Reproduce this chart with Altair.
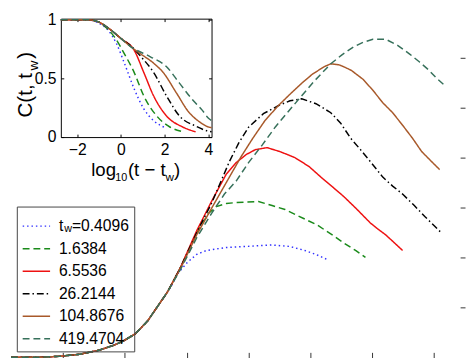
import altair as alt
import pandas as pd

FONT = "Liberation Sans"

# ---- series labels, colours, dashes ----
tw_labels = ["t\u00a0\u00a0=0.4096", "1.6384", "6.5536", "26.2144", "104.8676", "419.4704"]
colors = ["#3030ff", "#1a8a1a", "#ee1111", "#000000", "#a8592a", "#36705a"]
dashes = [[1.5, 3], [7, 4], [1, 0], [7, 3, 1.5, 3], [1, 0], [7, 4]]

# ---- main panel (arbitrary units, tick spacing = 1) ----
common_x = [0.16, 0.63, 0.95, 1.27, 1.58, 1.82, 1.98, 2.17, 2.37, 2.53, 2.69]
common_y = [0.00, 0.00, 0.02, 0.06, 0.14, 0.24, 0.33, 0.47, 0.73, 1.02, 1.31]

main_x = [
    [2.77, 2.85, 3.01, 3.16, 3.32, 3.64, 3.96, 4.38, 4.67, 4.91, 5.09, 5.27],
    [2.90, 3.16, 3.24, 3.35, 3.48, 3.64, 3.80, 4.16, 4.38, 4.59, 4.79, 5.11, 5.38, 5.54, 5.73, 5.89],
    [2.90, 3.16, 3.40, 3.64, 3.80, 3.96, 4.11, 4.30, 4.51, 4.75, 4.98, 5.17, 5.38, 5.54, 5.74, 5.97, 6.09, 6.22, 6.36, 6.49],
    [2.90, 3.16, 3.40, 3.69, 3.84, 4.00, 4.24, 4.48, 4.67, 4.86, 5.09, 5.33, 5.49, 5.65, 5.81, 5.97, 6.17, 6.33, 6.49, 6.68, 6.85, 6.99, 7.12],
    [2.90, 3.16, 3.40, 3.69, 3.88, 4.07, 4.27, 4.48, 4.67, 4.86, 5.03, 5.22, 5.33, 5.46, 5.54, 5.66, 5.85, 6.01, 6.17, 6.33, 6.49, 6.65, 6.80, 6.96, 7.09],
    [2.90, 3.16, 3.40, 3.61, 3.80, 4.00, 4.22, 4.43, 4.64, 4.86, 5.06, 5.33, 5.51, 5.70, 5.85, 6.01, 6.22, 6.41, 6.60, 6.76, 6.91, 7.04, 7.15],
]
main_y = [
    [1.47, 1.67, 1.90, 2.06, 2.14, 2.20, 2.22, 2.25, 2.22, 2.14, 2.06, 1.96],
    [1.80, 2.49, 2.65, 2.88, 3.02, 3.08, 3.10, 3.12, 3.04, 2.96, 2.84, 2.65, 2.43, 2.29, 2.14, 2.00],
    [1.80, 2.53, 3.12, 3.67, 3.90, 4.06, 4.16, 4.20, 4.12, 4.00, 3.82, 3.61, 3.39, 3.22, 2.98, 2.69, 2.57, 2.45, 2.29, 2.14],
    [1.80, 2.49, 3.08, 3.92, 4.29, 4.61, 4.88, 5.04, 5.14, 5.18, 5.08, 4.90, 4.69, 4.39, 4.16, 3.92, 3.61, 3.43, 3.27, 3.04, 2.82, 2.65, 2.49],
    [1.78, 2.45, 2.98, 3.61, 4.02, 4.39, 4.75, 5.04, 5.27, 5.49, 5.67, 5.82, 5.88, 5.86, 5.82, 5.75, 5.57, 5.35, 5.10, 4.90, 4.65, 4.39, 4.12, 3.92, 3.76],
    [1.76, 2.39, 2.88, 3.27, 3.53, 3.90, 4.25, 4.61, 4.92, 5.24, 5.53, 5.88, 6.06, 6.22, 6.31, 6.37, 6.37, 6.25, 6.08, 5.92, 5.76, 5.59, 5.47],
]

# ---- inset: C(t,tw) vs log10(t-tw) ----
inset_x = [
    [-2.75, -1.5, -1.0, -0.58, -0.21, 0.16, 0.61, 1.05, 1.50, 2.09],
    [-2.75, -1.5, -1.0, -0.60, -0.28, 0.16, 0.61, 1.05, 1.64, 2.24, 2.76],
    [-2.75, -1.55, -1.0, -0.58, 0.01, 0.61, 1.05, 1.50, 2.09, 2.83, 3.42],
    [-2.75, -1.5, -1.0, -0.58, 0.01, 0.50, 0.90, 1.50, 2.09, 2.68, 3.42, 4.01, 4.15],
    [-2.75, -1.5, -1.0, -0.58, 0.01, 0.46, 0.90, 1.50, 1.94, 2.53, 3.12, 3.60, 4.01, 4.15],
    [-2.75, -1.5, -1.0, -0.58, 0.01, 0.46, 1.35, 2.09, 2.68, 3.27, 3.72, 4.01, 4.15],
]
inset_c = [
    [1.0, 1.0, 0.97, 0.91, 0.80, 0.63, 0.41, 0.24, 0.14, 0.075],
    [1.0, 1.0, 0.98, 0.92, 0.85, 0.71, 0.55, 0.35, 0.18, 0.086, 0.05],
    [1.0, 1.0, 0.98, 0.93, 0.84, 0.74, 0.55, 0.35, 0.18, 0.086, 0.045],
    [1.0, 1.0, 0.98, 0.93, 0.84, 0.77, 0.69, 0.55, 0.35, 0.18, 0.094, 0.05, 0.045],
    [1.0, 1.0, 0.98, 0.93, 0.84, 0.77, 0.71, 0.63, 0.55, 0.38, 0.21, 0.13, 0.086, 0.08],
    [1.0, 1.0, 0.98, 0.93, 0.84, 0.77, 0.685, 0.60, 0.46, 0.32, 0.23, 0.16, 0.14],
]

main_rows, inset_rows = [], []
for i, lab in enumerate(tw_labels):
    xs = common_x + main_x[i]
    ys = common_y + main_y[i]
    for k, (a, b) in enumerate(zip(xs, ys)):
        main_rows.append({"tw": lab, "x": a, "y": b, "o": k})
    for k, (a, b) in enumerate(zip(inset_x[i], inset_c[i])):
        inset_rows.append({"tw": lab, "lx": a, "c": b, "o": k})
main_df = pd.DataFrame(main_rows)
inset_df = pd.DataFrame(inset_rows)

W, H = 466, 350
# inset frame (in view pixels)
IX0, IX1, IY0, IY1 = 53, 207, 3, 124

legend_kw = dict(title=None, orient="none", legendX=8, legendY=195,
                 symbolType="stroke", symbolSize=784, symbolStrokeWidth=1.5,
                 labelFont=FONT, labelFontSize=16, labelColor="black",
                 labelOffset=8, padding=5, rowPadding=0,
                 strokeColor="#444444", labelLimit=200)

color_enc = alt.Color("tw:N", scale=alt.Scale(domain=tw_labels, range=colors),
                      legend=alt.Legend(**legend_kw))
dash_enc = alt.StrokeDash("tw:N", scale=alt.Scale(domain=tw_labels, range=dashes),
                          legend=alt.Legend(**legend_kw))

main_xs = alt.Scale(domain=[0.1266, 7.5], nice=False, zero=False)
main_ys = alt.Scale(domain=[-0.0196, 6.843], nice=False, zero=False)

main = alt.Chart(main_df).mark_line(strokeWidth=1.5).encode(
    x=alt.X("x:Q", scale=main_xs,
            axis=alt.Axis(orient="bottom", offset=-6, tickSize=6, values=[1, 2, 3, 4, 5, 6, 7],
                          labels=False, domain=False, grid=False, title=None,
                          tickColor="#333333")),
    y=alt.Y("y:Q", scale=main_ys,
            axis=alt.Axis(orient="right", offset=-5, tickSize=5, values=[1, 2, 3, 4, 5, 6],
                          labels=False, domain=False, grid=False, title=None,
                          tickColor="#333333")),
    color=color_enc, strokeDash=dash_enc, order="o:Q",
)

ixs = alt.Scale(domain=[-2.75, 4.15], range=[IX0, IX1], nice=False, zero=False)
iys = alt.Scale(domain=[0, 1.01], range=[IY1, IY0], nice=False, zero=False)

inset = alt.Chart(inset_df).mark_line(strokeWidth=1.5, interpolate="monotone").encode(
    x=alt.X("lx:Q", scale=ixs,
            axis=alt.Axis(orient="bottom", offset=IY1 - H, ticks=False, values=[-2, 0, 2, 4],
                          domain=True, domainColor="black", grid=False, title=None,
                          labelFont=FONT, labelFontSize=16, labelColor="black", labelPadding=5)),
    y=alt.Y("c:Q", scale=iys,
            axis=alt.Axis(orient="left", offset=-IX0, ticks=False, values=[0, 0.5, 1],
                          labelExpr="'' + datum.value",
                          domain=True, domainColor="black", grid=False, title=None,
                          labelFont=FONT, labelFontSize=16, labelColor="black", labelPadding=5)),
    color=alt.Color("tw:N", scale=alt.Scale(domain=tw_labels, range=colors), legend=None),
    strokeDash=alt.StrokeDash("tw:N", scale=alt.Scale(domain=tw_labels, range=dashes), legend=None),
    order="o:Q",
)

def frame(xo, yo, xorient, yorient, tick, show_domain):
    return alt.Chart(inset_df).mark_line(strokeOpacity=0).encode(
        x=alt.X("lx:Q", scale=ixs,
                axis=alt.Axis(orient=xorient, offset=xo, values=[-2, 0, 2, 4], labels=False,
                              ticks=tick > 0, tickSize=max(tick, 1), tickColor="black",
                              domain=show_domain, domainColor="black", grid=False, title=None)),
        y=alt.Y("c:Q", scale=iys,
                axis=alt.Axis(orient=yorient, offset=yo, values=[0, 0.5, 1], labels=False,
                              ticks=tick > 0, tickSize=max(tick, 1), tickColor="black",
                              domain=show_domain, domainColor="black", grid=False, title=None)),
        detail="tw:N",
    )

T = 3
frame_tr = frame(-IY0, IX1 - W, "top", "right", 0, True)
ticks_bl = frame(IY1 - T - H, -(IX0 + T), "bottom", "left", T, False)
ticks_tr = frame(-(IY0 + T), IX1 - T - W, "top", "right", T, False)

def txt(s, x, y, size, angle=0):
    kw = dict(text=s, fontSize=size, font=FONT, align="left", baseline="alphabetic", color="black")
    if angle:
        kw["angle"] = angle
    return alt.Chart(alt.Data(values=[{}])).mark_text(**kw).encode(
        x=alt.value(x), y=alt.value(y))

titles = [
    txt("log", 84, 164, 19),
    txt("10", 108.5, 169, 11),
    txt("(t \u2212 t", 121.5, 164, 19),
    txt("w", 160, 169, 12),
    txt(")", 168.5, 164, 19),
    txt("C(t, t", 24, 104, 21, 270),
    txt("w", 30, 56, 14, 270),
    txt(")", 24, 44, 21, 270),
    txt("w", 56.5, 221, 11),
]

chart = alt.layer(main, inset, frame_tr, ticks_bl, ticks_tr, *titles).resolve_scale(
    x="independent", y="independent"
).properties(width=W, height=H, padding=0).configure_view(stroke=None)

chart.save("out.html", embed_options={"renderer": "svg", "actions": False})
